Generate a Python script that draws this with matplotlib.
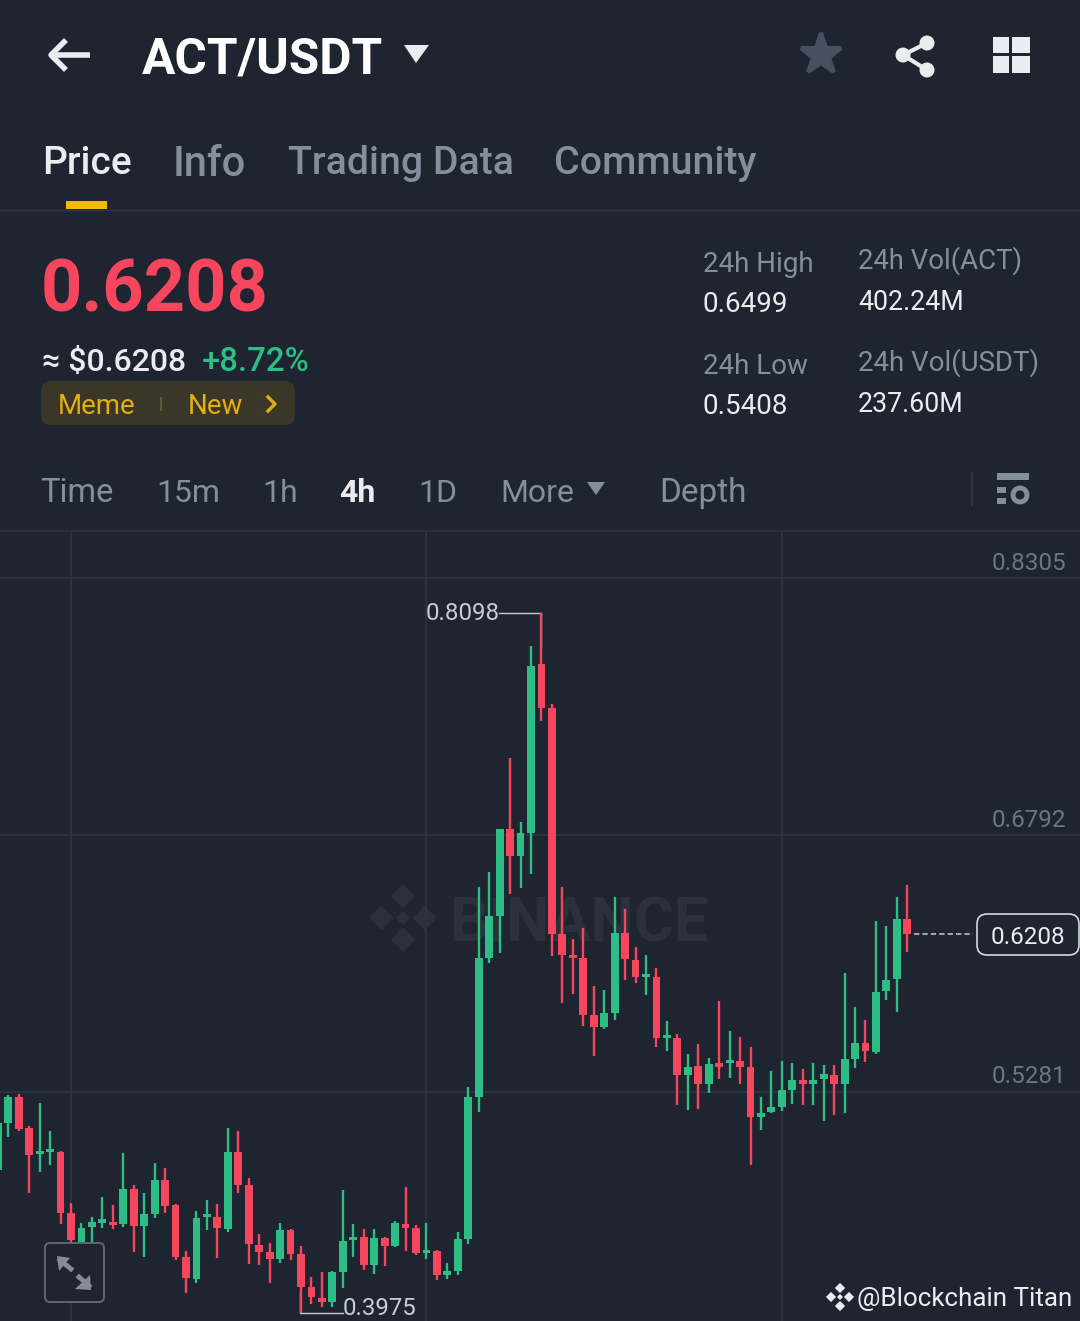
#!/usr/bin/env python3
import numpy as np
import matplotlib
matplotlib.use('Agg')
import matplotlib.pyplot as plt
from matplotlib.patches import FancyBboxPatch, Polygon, Rectangle, Circle

plt.rcParams['font.family'] = ['Roboto', 'DejaVu Sans']

# 4h candles, oldest first (first one is cut off by the left edge)
opens = [0.4819, 0.5098, 0.5247, 0.5064, 0.4911, 0.4925, 0.4925, 0.4564, 0.4348, 0.4481,
         0.4509, 0.4515, 0.4501, 0.4705, 0.4489, 0.4560, 0.4760, 0.4611, 0.4308, 0.4177,
         0.4540, 0.4540, 0.4471, 0.4927, 0.4731, 0.4377, 0.4334, 0.4293, 0.4465, 0.4322,
         0.4128, 0.4067, 0.4043, 0.4218, 0.4407, 0.4422, 0.4259, 0.4416, 0.4371, 0.4501,
         0.4475, 0.4330, 0.4342, 0.4200, 0.4226, 0.4410, 0.5247, 0.6066, 0.6315, 0.6825,
         0.6668, 0.6802, 0.7797, 0.7538, 0.6209, 0.6085, 0.6070, 0.5732, 0.5659, 0.5742,
         0.6217, 0.6056, 0.5954, 0.5958, 0.5594, 0.5594, 0.5378, 0.5433, 0.5323, 0.5447,
         0.5447, 0.5459, 0.5426, 0.5129, 0.5159, 0.5188, 0.5290, 0.5347, 0.5327, 0.5353,
         0.5380, 0.5323, 0.5471, 0.5565, 0.5516, 0.5875, 0.5942, 0.6299]
closes = [0.5094, 0.5247, 0.5058, 0.4907, 0.4923, 0.4935, 0.4567, 0.4407, 0.4479, 0.4511,
          0.4524, 0.4495, 0.4705, 0.4489, 0.4560, 0.4760, 0.4607, 0.4308, 0.4181, 0.4534,
          0.4554, 0.4475, 0.4927, 0.4731, 0.4381, 0.4334, 0.4295, 0.4465, 0.4324, 0.4132,
          0.4069, 0.4043, 0.4220, 0.4403, 0.4422, 0.4257, 0.4416, 0.4373, 0.4509, 0.4475,
          0.4328, 0.4344, 0.4200, 0.4226, 0.4410, 0.5247, 0.6066, 0.6315, 0.6825, 0.6668,
          0.6802, 0.7789, 0.7538, 0.6209, 0.6085, 0.6070, 0.5732, 0.5659, 0.5742, 0.6217,
          0.6060, 0.5954, 0.5968, 0.5594, 0.5610, 0.5378, 0.5428, 0.5323, 0.5443, 0.5428,
          0.5463, 0.5428, 0.5129, 0.5155, 0.5188, 0.5290, 0.5347, 0.5327, 0.5349, 0.5382,
          0.5323, 0.5471, 0.5565, 0.5518, 0.5869, 0.5938, 0.6299, 0.6208]
highs = [0.5094, 0.5261, 0.5266, 0.5078, 0.5215, 0.5048, 0.4929, 0.4626, 0.4509, 0.4544,
         0.4658, 0.4611, 0.4921, 0.4729, 0.4681, 0.4858, 0.4829, 0.4619, 0.4344, 0.4579,
         0.4642, 0.4617, 0.5064, 0.5051, 0.4774, 0.4442, 0.4387, 0.4505, 0.4469, 0.4373,
         0.4191, 0.4216, 0.4222, 0.4701, 0.4499, 0.4471, 0.4469, 0.4422, 0.4517, 0.4717,
         0.4493, 0.4505, 0.4348, 0.4269, 0.4454, 0.5310, 0.6488, 0.6574, 0.6825, 0.7244,
         0.6867, 0.7905, 0.8098, 0.7564, 0.6488, 0.6178, 0.6242, 0.5905, 0.5879, 0.6429,
         0.6356, 0.6134, 0.6083, 0.6011, 0.5699, 0.5620, 0.5502, 0.5559, 0.5481, 0.5812,
         0.5640, 0.5604, 0.5545, 0.5251, 0.5400, 0.5463, 0.5447, 0.5416, 0.5447, 0.5439,
         0.5435, 0.5977, 0.5777, 0.5704, 0.6284, 0.6256, 0.6429, 0.6499]
lows = [0.4740, 0.5015, 0.5048, 0.4685, 0.4809, 0.4848, 0.4501, 0.4348, 0.4308, 0.4387,
        0.4475, 0.4471, 0.4485, 0.4334, 0.4308, 0.4534, 0.4567, 0.4287, 0.4096, 0.4155,
        0.4465, 0.4298, 0.4456, 0.4685, 0.4265, 0.4257, 0.4155, 0.4273, 0.4289, 0.3975,
        0.4030, 0.4014, 0.4014, 0.4122, 0.4308, 0.4230, 0.4204, 0.4253, 0.4367, 0.4340,
        0.4316, 0.4297, 0.4171, 0.4179, 0.4200, 0.4383, 0.5162, 0.6036, 0.6095, 0.6445,
        0.6478, 0.6560, 0.7465, 0.6079, 0.5801, 0.5856, 0.5667, 0.5490, 0.5651, 0.5702,
        0.5938, 0.5918, 0.5852, 0.5545, 0.5522, 0.5200, 0.5172, 0.5180, 0.5271, 0.5357,
        0.5359, 0.5327, 0.4848, 0.5053, 0.5153, 0.5168, 0.5208, 0.5200, 0.5200, 0.5106,
        0.5143, 0.5153, 0.5418, 0.5455, 0.5500, 0.5820, 0.5750, 0.6101]
price_ticks = [0.8305, 0.6792, 0.5281]
time_grid = [6, 40, 74]
last_price = 0.6208
max_label = '0.8098'
min_label = '0.3975'

BG = '#1e2430'
GREEN = '#2ebd85'
RED = '#f6465d'
GREY = '#858e9d'
WHITE = '#eaecef'
GRID = '#2e3440'
YELLOW = '#f0b90b'
MARK = '#2b313c'

fig = plt.figure(figsize=(10.8, 13.21), dpi=100, facecolor=BG)

# chart area, rows 531..1321 of the picture
ax = fig.add_axes([0, 0, 1, 790 / 1321], facecolor=BG)
x = np.arange(len(opens)) - 1
o = np.array(opens)
c = np.array(closes)
colors = [GREEN if a >= b else RED for a, b in zip(c, o)]
ax.vlines(x, lows, highs, colors=colors, linewidth=1.7, zorder=3)
ax.bar(x, np.maximum(np.abs(c - o), 0.0018), bottom=np.minimum(o, c), width=0.75,
       color=colors, zorder=3)
ax.set_xlim(-0.794, 102.52)
ax.set_ylim(0.3929, 0.8583)
ax.set_xticks(time_grid)
ax.set_yticks(price_ticks)
ax.grid(True, color=GRID, linewidth=1.2, zorder=0)
ax.tick_params(length=0, labelbottom=False, labelleft=False)
for s in ax.spines.values():
    s.set_visible(False)

for p in price_ticks:
    ax.text(0.987, p + 0.0086, '%.4f' % p, transform=ax.get_yaxis_transform(), ha='right',
            va='center', color='#6d7585', fontsize=17.5)

# max / min markers
ax.plot([46.95, 50.95, 50.95], [0.8098, 0.8098, 0.79], color='#c9ccd2', linewidth=1.0, zorder=2)
ax.text(47.05, 0.8098, max_label, ha='right', va='center', color='#c9ccd2', fontsize=17.3)
ax.plot([27.95, 27.95, 32], [0.41, 0.3975, 0.3975], color='#c9ccd2', linewidth=1.0, zorder=2)
ax.text(32, 0.3933, min_label, ha='left', va='bottom', color='#c9ccd2', fontsize=17.3)

# last price
ax.plot([86.6, 92.3], [last_price, last_price], color='#c9ccd2', linewidth=1.1,
        linestyle=(0, (3.5, 2)), zorder=2)

# everything else sits on a picture-sized overlay, in pixels
ui = fig.add_axes([0, 0, 1, 1], facecolor='none')
ui.set_xlim(0, 1080)
ui.set_ylim(1321, 0)
ui.axis('off')


def label(px, py, s, size, color=GREY, weight='normal', ha='left'):
    ui.text(px, py + 2, s, fontsize=size, color=color, fontweight=weight, ha=ha, va='center')


def pill(x0, y0, x1, y1, r, face, edge='none', lw=0, z=5):
    ui.add_patch(FancyBboxPatch((x0 + r, y0 + r), x1 - x0 - 2 * r, y1 - y0 - 2 * r,
                                boxstyle='round,pad=%d,rounding_size=%d' % (r, r),
                                fc=face, ec=edge, lw=lw, zorder=z))


def diamond(target, cx, cy, r, color, z=1):
    # four small rhombi + centre, like the exchange logo
    for dx, dy in [(-1, 0), (1, 0), (0, -1), (0, 1), (0, 0)]:
        px, py = cx + dx * r * 0.6, cy + dy * r * 0.6
        q = r * 0.34 if dx or dy else r * 0.2
        target.add_patch(Polygon([(px - q, py), (px, py - q), (px + q, py), (px, py + q)],
                                 fc=color, ec='none', zorder=z, transform=ui.transData))


# header
ui.plot([51, 90], [55, 55], color=WHITE, lw=4, solid_capstyle='butt')
ui.plot([64, 51, 64], [42, 55, 68], color=WHITE, lw=4)
label(142, 58, 'ACT/USDT', 35.7, '#ffffff', 'bold')
ui.add_patch(Polygon([(404, 45), (429, 45), (416, 63)], fc=WHITE, ec='none'))
ui.plot([821], [55], marker='*', markersize=31, color='#474f60', mew=3, mec='#474f60')
for sx, sy in [(927, 43), (903, 55), (927, 70)]:
    ui.add_patch(Circle((sx, sy), 7.5, fc=WHITE, ec='none'))
ui.plot([927, 903, 927], [43, 55, 70], color=WHITE, lw=3)
for rx, ry, rw, rh in [(993, 37, 16, 16), (1012, 37, 18, 16), (993, 56, 16, 17), (1012, 56, 18, 17)]:
    ui.add_patch(Rectangle((rx, ry), rw, rh, fc=WHITE, ec='none'))

# tabs
label(42, 162, 'Price', 28, WHITE, 'medium')
label(173, 162, 'Info', 30, GREY, 'medium')
label(288, 162, 'Trading Data', 28.2, GREY, 'medium')
label(554, 162, 'Community', 28.4, GREY, 'medium')
ui.add_patch(Rectangle((66, 201), 41, 8, fc=YELLOW, ec='none'))
ui.plot([0, 1080], [210, 210], color=GRID, lw=1)

# ticker block
label(41, 290, '0.6208', 52, RED, 'bold')
label(42, 360, '≈ $0.6208', 23, WHITE, 'medium')
label(202, 360, '+8.72%', 23.7, GREEN, 'medium')
pill(41, 381, 295, 425, 10, '#3a3628', z=1)
label(58, 404, 'Meme', 20, '#e2ae10')
ui.plot([161, 161], [398, 410], color='#6b5f2a', lw=1.2)
label(188, 404, 'New', 20, '#e2ae10')
ui.plot([268, 275, 268], [397, 404, 411], color='#e2ae10', lw=2.4)

label(703, 262, '24h High', 20)
label(703, 302, '0.6499', 20, WHITE)
label(858, 259, '24h Vol(ACT)', 19.8)
label(858, 300, '402.24M', 19.3, WHITE)
label(703, 364, '24h Low', 20)
label(703, 404, '0.5408', 20, WHITE)
label(858, 361, '24h Vol(USDT)', 19.9)
label(858, 402, '237.60M', 19.3, WHITE)

# interval bar
label(40, 491, 'Time', 23.5)
label(156, 491, '15m', 23)
label(262, 491, '1h', 23)
label(339, 491, '4h', 23, WHITE, 'bold')
label(418, 491, '1D', 23)
label(500, 491, 'More', 23)
ui.add_patch(Polygon([(587, 482), (605, 482), (596, 495)], fc=GREY, ec='none'))
label(659, 491, 'Depth', 24)
ui.plot([972, 972], [473, 505], color=GRID, lw=1.5)
ui.add_patch(Rectangle((997, 473), 32, 7, fc=GREY, ec='none'))
ui.add_patch(Rectangle((997, 487), 9, 6, fc=GREY, ec='none'))
ui.add_patch(Rectangle((997, 498), 9, 6, fc=GREY, ec='none'))
ui.add_patch(Circle((1020, 495), 7, fc='none', ec=GREY, lw=3.5))
ui.plot([0, 1080], [531, 531], color=GRID, lw=1.2)

# watermark goes under the candles, so it lives on the chart axes
diamond(ax, 403, 918, 36, MARK)
ax.text(449, 924, 'BINANCE', fontsize=44, color=MARK, fontweight='bold', ha='left', va='center',
        transform=ui.transData, zorder=1)

# current price box
pill(977, 914, 1079, 955, 10, BG, '#d5d8dc', 1.2, z=6)
ui.text(1028, 937, '0.6208', fontsize=17.5, color=WHITE, ha='center', va='center', zorder=7)

# expand button
pill(45, 1243, 104, 1302, 5, BG, '#5f6571', 1.4, z=6)
ui.plot([60, 71], [1260, 1269], color='#858b97', lw=3.5, zorder=7)
ui.plot([79, 89], [1277, 1286], color='#858b97', lw=3.5, zorder=7)
ui.add_patch(Polygon([(57, 1256), (70, 1258), (59, 1271)], fc='#858b97', ec='none', zorder=7))
ui.add_patch(Polygon([(91, 1290), (75, 1289), (90, 1275)], fc='#858b97', ec='none', zorder=7))

# source tag
diamond(ui, 840, 1297, 15, WHITE, z=7)
ui.text(857, 1299, '@Blockchain Titan', fontsize=18.7, color=WHITE, ha='left', va='center', zorder=7)

fig.savefig('out.png', dpi=100, facecolor=BG)
